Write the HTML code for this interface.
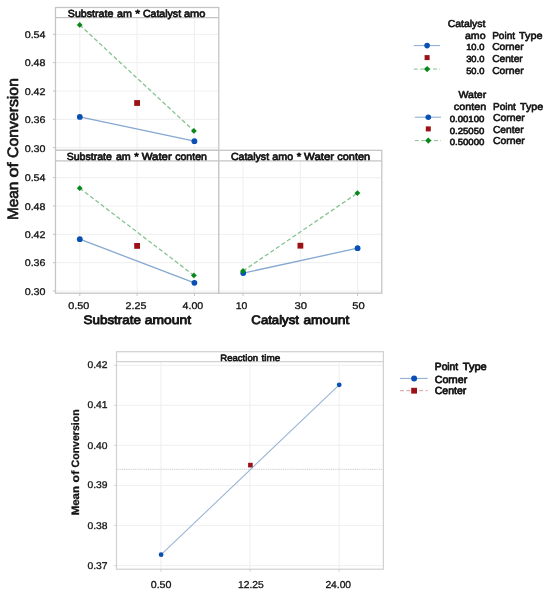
<!DOCTYPE html>
<html><head><meta charset="utf-8"><title>Interaction plot</title>
<style>
html,body{margin:0;padding:0;background:#fff;}
svg{display:block;font-family:"Liberation Sans",sans-serif;text-rendering:geometricPrecision;}
</style></head><body>
<svg width="550" height="594" viewBox="0 0 550 594">
<rect width="550" height="594" fill="#fff"/>
<rect x="55.5" y="7.5" width="163.3" height="142.8" fill="#fff"/>
<line x1="79.8" y1="17.6" x2="79.8" y2="150.3" stroke="#f1f1f1" stroke-width="1.2"/>
<line x1="137.1" y1="17.6" x2="137.1" y2="150.3" stroke="#f1f1f1" stroke-width="1.2"/>
<line x1="194.4" y1="17.6" x2="194.4" y2="150.3" stroke="#f1f1f1" stroke-width="1.2"/>
<line x1="55.5" y1="34.3" x2="218.8" y2="34.3" stroke="#f1f1f1" stroke-width="1.2"/>
<line x1="55.5" y1="62.6" x2="218.8" y2="62.6" stroke="#f1f1f1" stroke-width="1.2"/>
<line x1="55.5" y1="91" x2="218.8" y2="91" stroke="#f1f1f1" stroke-width="1.2"/>
<line x1="55.5" y1="119.3" x2="218.8" y2="119.3" stroke="#f1f1f1" stroke-width="1.2"/>
<line x1="55.5" y1="147.6" x2="218.8" y2="147.6" stroke="#f1f1f1" stroke-width="1.2"/>
<rect x="55.5" y="7.5" width="163.3" height="142.8" fill="none" stroke="#c4c4c4" stroke-width="1.25"/>
<line x1="55.5" y1="17.6" x2="218.8" y2="17.6" stroke="#c4c4c4" stroke-width="1.25"/>
<rect x="55.5" y="150.3" width="163.3" height="142.9" fill="#fff"/>
<line x1="79.8" y1="160.9" x2="79.8" y2="293.2" stroke="#f1f1f1" stroke-width="1.2"/>
<line x1="137.1" y1="160.9" x2="137.1" y2="293.2" stroke="#f1f1f1" stroke-width="1.2"/>
<line x1="194.4" y1="160.9" x2="194.4" y2="293.2" stroke="#f1f1f1" stroke-width="1.2"/>
<line x1="55.5" y1="177.6" x2="218.8" y2="177.6" stroke="#f1f1f1" stroke-width="1.2"/>
<line x1="55.5" y1="206" x2="218.8" y2="206" stroke="#f1f1f1" stroke-width="1.2"/>
<line x1="55.5" y1="234.3" x2="218.8" y2="234.3" stroke="#f1f1f1" stroke-width="1.2"/>
<line x1="55.5" y1="262.7" x2="218.8" y2="262.7" stroke="#f1f1f1" stroke-width="1.2"/>
<line x1="55.5" y1="291" x2="218.8" y2="291" stroke="#f1f1f1" stroke-width="1.2"/>
<rect x="55.5" y="150.3" width="163.3" height="142.9" fill="none" stroke="#c4c4c4" stroke-width="1.25"/>
<line x1="55.5" y1="160.9" x2="218.8" y2="160.9" stroke="#c4c4c4" stroke-width="1.25"/>
<rect x="218.8" y="150.3" width="163" height="142.9" fill="#fff"/>
<line x1="243" y1="160.9" x2="243" y2="293.2" stroke="#f1f1f1" stroke-width="1.2"/>
<line x1="300.3" y1="160.9" x2="300.3" y2="293.2" stroke="#f1f1f1" stroke-width="1.2"/>
<line x1="357.6" y1="160.9" x2="357.6" y2="293.2" stroke="#f1f1f1" stroke-width="1.2"/>
<line x1="218.8" y1="177.6" x2="381.8" y2="177.6" stroke="#f1f1f1" stroke-width="1.2"/>
<line x1="218.8" y1="206" x2="381.8" y2="206" stroke="#f1f1f1" stroke-width="1.2"/>
<line x1="218.8" y1="234.3" x2="381.8" y2="234.3" stroke="#f1f1f1" stroke-width="1.2"/>
<line x1="218.8" y1="262.7" x2="381.8" y2="262.7" stroke="#f1f1f1" stroke-width="1.2"/>
<line x1="218.8" y1="291" x2="381.8" y2="291" stroke="#f1f1f1" stroke-width="1.2"/>
<rect x="218.8" y="150.3" width="163" height="142.9" fill="none" stroke="#c4c4c4" stroke-width="1.25"/>
<line x1="218.8" y1="160.9" x2="381.8" y2="160.9" stroke="#c4c4c4" stroke-width="1.25"/>
<text x="67.8" y="16.8" font-size="10.3" fill="#141414" textLength="45.5" lengthAdjust="spacingAndGlyphs" stroke="#141414" stroke-width="0.70" stroke-linejoin="round">Substrate</text>
<text x="117" y="16.8" font-size="10.3" fill="#141414" textLength="14.9" lengthAdjust="spacingAndGlyphs" stroke="#141414" stroke-width="0.70" stroke-linejoin="round">am</text>
<text x="135.3" y="16.8" font-size="10.3" fill="#141414" textLength="4.8" lengthAdjust="spacingAndGlyphs" stroke="#141414" stroke-width="0.70" stroke-linejoin="round">*</text>
<text x="142.9" y="16.8" font-size="10.3" fill="#141414" textLength="38.2" lengthAdjust="spacingAndGlyphs" stroke="#141414" stroke-width="0.70" stroke-linejoin="round">Catalyst</text>
<text x="183.9" y="16.8" font-size="10.3" fill="#141414" textLength="21.5" lengthAdjust="spacingAndGlyphs" stroke="#141414" stroke-width="0.70" stroke-linejoin="round">amo</text>
<text x="66.7" y="159.8" font-size="10.3" fill="#141414" textLength="45.2" lengthAdjust="spacingAndGlyphs" stroke="#141414" stroke-width="0.70" stroke-linejoin="round">Substrate</text>
<text x="115.9" y="159.8" font-size="10.3" fill="#141414" textLength="14.8" lengthAdjust="spacingAndGlyphs" stroke="#141414" stroke-width="0.70" stroke-linejoin="round">am</text>
<text x="134.3" y="159.8" font-size="10.3" fill="#141414" textLength="4.5" lengthAdjust="spacingAndGlyphs" stroke="#141414" stroke-width="0.70" stroke-linejoin="round">*</text>
<text x="141.7" y="159.8" font-size="10.3" fill="#141414" textLength="30.1" lengthAdjust="spacingAndGlyphs" stroke="#141414" stroke-width="0.70" stroke-linejoin="round">Water</text>
<text x="175.2" y="159.8" font-size="10.3" fill="#141414" textLength="31.8" lengthAdjust="spacingAndGlyphs" stroke="#141414" stroke-width="0.70" stroke-linejoin="round">conten</text>
<text x="230.9" y="159.8" font-size="10.3" fill="#141414" textLength="38.2" lengthAdjust="spacingAndGlyphs" stroke="#141414" stroke-width="0.70" stroke-linejoin="round">Catalyst</text>
<text x="272.3" y="159.8" font-size="10.3" fill="#141414" textLength="20.8" lengthAdjust="spacingAndGlyphs" stroke="#141414" stroke-width="0.70" stroke-linejoin="round">amo</text>
<text x="296.8" y="159.8" font-size="10.3" fill="#141414" textLength="4.5" lengthAdjust="spacingAndGlyphs" stroke="#141414" stroke-width="0.70" stroke-linejoin="round">*</text>
<text x="304.1" y="159.8" font-size="10.3" fill="#141414" textLength="30" lengthAdjust="spacingAndGlyphs" stroke="#141414" stroke-width="0.70" stroke-linejoin="round">Water</text>
<text x="337.3" y="159.8" font-size="10.3" fill="#141414" textLength="32.8" lengthAdjust="spacingAndGlyphs" stroke="#141414" stroke-width="0.70" stroke-linejoin="round">conten</text>
<line x1="52.8" y1="34.3" x2="55.5" y2="34.3" stroke="#c4c4c4" stroke-width="1"/>
<text x="24.7" y="37.7" font-size="9.7" fill="#141414" textLength="20.8" lengthAdjust="spacingAndGlyphs" stroke="#141414" stroke-width="0.3">0.54</text>
<line x1="52.8" y1="62.6" x2="55.5" y2="62.6" stroke="#c4c4c4" stroke-width="1"/>
<text x="24.7" y="66.2" font-size="9.7" fill="#141414" textLength="20.8" lengthAdjust="spacingAndGlyphs" stroke="#141414" stroke-width="0.3">0.48</text>
<line x1="52.8" y1="91" x2="55.5" y2="91" stroke="#c4c4c4" stroke-width="1"/>
<text x="24.7" y="94.7" font-size="9.7" fill="#141414" textLength="20.8" lengthAdjust="spacingAndGlyphs" stroke="#141414" stroke-width="0.3">0.42</text>
<line x1="52.8" y1="119.3" x2="55.5" y2="119.3" stroke="#c4c4c4" stroke-width="1"/>
<text x="24.7" y="123.2" font-size="9.7" fill="#141414" textLength="20.8" lengthAdjust="spacingAndGlyphs" stroke="#141414" stroke-width="0.3">0.36</text>
<line x1="52.8" y1="147.6" x2="55.5" y2="147.6" stroke="#c4c4c4" stroke-width="1"/>
<text x="24.7" y="151.7" font-size="9.7" fill="#141414" textLength="20.8" lengthAdjust="spacingAndGlyphs" stroke="#141414" stroke-width="0.3">0.30</text>
<line x1="52.8" y1="177.6" x2="55.5" y2="177.6" stroke="#c4c4c4" stroke-width="1"/>
<text x="24.7" y="181.1" font-size="9.7" fill="#141414" textLength="20.8" lengthAdjust="spacingAndGlyphs" stroke="#141414" stroke-width="0.3">0.54</text>
<line x1="52.8" y1="206" x2="55.5" y2="206" stroke="#c4c4c4" stroke-width="1"/>
<text x="24.7" y="209.5" font-size="9.7" fill="#141414" textLength="20.8" lengthAdjust="spacingAndGlyphs" stroke="#141414" stroke-width="0.3">0.48</text>
<line x1="52.8" y1="234.3" x2="55.5" y2="234.3" stroke="#c4c4c4" stroke-width="1"/>
<text x="24.7" y="237.9" font-size="9.7" fill="#141414" textLength="20.8" lengthAdjust="spacingAndGlyphs" stroke="#141414" stroke-width="0.3">0.42</text>
<line x1="52.8" y1="262.7" x2="55.5" y2="262.7" stroke="#c4c4c4" stroke-width="1"/>
<text x="24.7" y="266.3" font-size="9.7" fill="#141414" textLength="20.8" lengthAdjust="spacingAndGlyphs" stroke="#141414" stroke-width="0.3">0.36</text>
<line x1="52.8" y1="291" x2="55.5" y2="291" stroke="#c4c4c4" stroke-width="1"/>
<text x="24.7" y="294.7" font-size="9.7" fill="#141414" textLength="20.8" lengthAdjust="spacingAndGlyphs" stroke="#141414" stroke-width="0.3">0.30</text>
<line x1="79.8" y1="293.2" x2="79.8" y2="296" stroke="#c4c4c4" stroke-width="1"/>
<text x="68.3" y="309.1" font-size="9.7" fill="#141414" textLength="21.1" lengthAdjust="spacingAndGlyphs" stroke="#141414" stroke-width="0.3">0.50</text>
<line x1="137.1" y1="293.2" x2="137.1" y2="296" stroke="#c4c4c4" stroke-width="1"/>
<text x="125.6" y="309.1" font-size="9.7" fill="#141414" textLength="20.8" lengthAdjust="spacingAndGlyphs" stroke="#141414" stroke-width="0.3">2.25</text>
<line x1="194.4" y1="293.2" x2="194.4" y2="296" stroke="#c4c4c4" stroke-width="1"/>
<text x="182.6" y="309.1" font-size="9.7" fill="#141414" textLength="20.6" lengthAdjust="spacingAndGlyphs" stroke="#141414" stroke-width="0.3">4.00</text>
<line x1="243" y1="293.2" x2="243" y2="296" stroke="#c4c4c4" stroke-width="1"/>
<text x="235.8" y="309.1" font-size="9.7" fill="#141414" textLength="11.6" lengthAdjust="spacingAndGlyphs" stroke="#141414" stroke-width="0.3">10</text>
<line x1="300.3" y1="293.2" x2="300.3" y2="296" stroke="#c4c4c4" stroke-width="1"/>
<text x="294.4" y="309.1" font-size="9.7" fill="#141414" textLength="12.5" lengthAdjust="spacingAndGlyphs" stroke="#141414" stroke-width="0.3">30</text>
<line x1="357.6" y1="293.2" x2="357.6" y2="296" stroke="#c4c4c4" stroke-width="1"/>
<text x="352.2" y="309.1" font-size="9.7" fill="#141414" textLength="12.4" lengthAdjust="spacingAndGlyphs" stroke="#141414" stroke-width="0.3">50</text>
<text x="83.47" y="323.7" font-size="12.3" fill="#141414" textLength="57.55" lengthAdjust="spacingAndGlyphs" stroke="#141414" stroke-width="0.85" stroke-linejoin="round">Substrate</text>
<text x="144.88" y="323.7" font-size="12.3" fill="#141414" textLength="46.15" lengthAdjust="spacingAndGlyphs" stroke="#141414" stroke-width="0.85" stroke-linejoin="round">amount</text>
<text x="251.38" y="323.7" font-size="12.3" fill="#141414" textLength="47.55" lengthAdjust="spacingAndGlyphs" stroke="#141414" stroke-width="0.85" stroke-linejoin="round">Catalyst</text>
<text x="303.48" y="323.7" font-size="12.3" fill="#141414" textLength="45.85" lengthAdjust="spacingAndGlyphs" stroke="#141414" stroke-width="0.85" stroke-linejoin="round">amount</text>
<g transform="translate(17.9,0) rotate(-90)">
<text x="-220" y="0" font-size="15" fill="#141414" textLength="38.4" lengthAdjust="spacingAndGlyphs" stroke="#141414" stroke-width="0.65">Mean</text>
<text x="-177.6" y="0" font-size="15" fill="#141414" textLength="15.1" lengthAdjust="spacingAndGlyphs" stroke="#141414" stroke-width="0.65">of</text>
<text x="-157.9" y="0" font-size="15" fill="#141414" textLength="79.8" lengthAdjust="spacingAndGlyphs" stroke="#141414" stroke-width="0.65">Conversion</text>
</g>
<line x1="79.8" y1="116.9" x2="194.4" y2="141.2" stroke="#85a8d0" stroke-width="1.3"/>
<line x1="79.7" y1="24.9" x2="193.9" y2="130.9" stroke="#86c293" stroke-width="1.3" stroke-dasharray="4.2 2.45"/>
<circle cx="79.8" cy="116.9" r="2.9" fill="#0a50b4"/>
<circle cx="194.4" cy="141.2" r="2.9" fill="#0a50b4"/>
<polygon points="79.7,22 82.6,24.9 79.7,27.8 76.8,24.9" fill="#08881a"/>
<polygon points="193.9,128 196.8,130.9 193.9,133.8 191,130.9" fill="#08881a"/>
<rect x="134.2" y="100.1" width="5.8" height="5.8" fill="#9c1116"/>
<line x1="79.8" y1="239.2" x2="194.4" y2="282.8" stroke="#85a8d0" stroke-width="1.3"/>
<line x1="79.7" y1="188.2" x2="193.9" y2="275.4" stroke="#86c293" stroke-width="1.3" stroke-dasharray="4.2 2.45"/>
<circle cx="79.8" cy="239.2" r="2.9" fill="#0a50b4"/>
<circle cx="194.4" cy="282.8" r="2.9" fill="#0a50b4"/>
<polygon points="79.7,185.3 82.6,188.2 79.7,191.1 76.8,188.2" fill="#08881a"/>
<polygon points="193.9,272.5 196.8,275.4 193.9,278.3 191,275.4" fill="#08881a"/>
<rect x="134.2" y="243" width="5.8" height="5.8" fill="#9c1116"/>
<line x1="243.2" y1="273.1" x2="357.6" y2="248.2" stroke="#85a8d0" stroke-width="1.3"/>
<line x1="243" y1="271" x2="357.4" y2="193.1" stroke="#86c293" stroke-width="1.3" stroke-dasharray="4.2 2.45"/>
<circle cx="243.2" cy="273.1" r="2.9" fill="#0a50b4"/>
<circle cx="357.6" cy="248.2" r="2.9" fill="#0a50b4"/>
<polygon points="243,268.1 245.9,271 243,273.9 240.1,271" fill="#08881a"/>
<polygon points="357.4,190.2 360.3,193.1 357.4,196 354.5,193.1" fill="#08881a"/>
<rect x="297.5" y="242.8" width="5.8" height="5.8" fill="#9c1116"/>
<text x="447.65" y="27.1" font-size="10" fill="#141414" textLength="37.8" lengthAdjust="spacingAndGlyphs" stroke="#141414" stroke-width="0.60" stroke-linejoin="round">Catalyst</text>
<text x="464.95" y="38.8" font-size="10" fill="#141414" textLength="20.6" lengthAdjust="spacingAndGlyphs" stroke="#141414" stroke-width="0.60" stroke-linejoin="round">amo</text>
<text x="492.15" y="38.8" font-size="10" fill="#141414" textLength="22.9" lengthAdjust="spacingAndGlyphs" stroke="#141414" stroke-width="0.60" stroke-linejoin="round">Point</text>
<text x="518.95" y="38.8" font-size="10" fill="#141414" textLength="23.6" lengthAdjust="spacingAndGlyphs" stroke="#141414" stroke-width="0.60" stroke-linejoin="round">Type</text>
<text x="466.15" y="50.1" font-size="8.9" fill="#141414" textLength="18.2" lengthAdjust="spacingAndGlyphs" stroke="#141414" stroke-width="0.60" stroke-linejoin="round">10.0</text>
<text x="492.15" y="49.8" font-size="10" fill="#141414" textLength="31.6" lengthAdjust="spacingAndGlyphs" stroke="#141414" stroke-width="0.60" stroke-linejoin="round">Corner</text>
<text x="466.15" y="62" font-size="8.9" fill="#141414" textLength="18.2" lengthAdjust="spacingAndGlyphs" stroke="#141414" stroke-width="0.60" stroke-linejoin="round">30.0</text>
<text x="492.15" y="61.7" font-size="10" fill="#141414" textLength="30.6" lengthAdjust="spacingAndGlyphs" stroke="#141414" stroke-width="0.60" stroke-linejoin="round">Center</text>
<text x="466.15" y="73.8" font-size="8.9" fill="#141414" textLength="18.2" lengthAdjust="spacingAndGlyphs" stroke="#141414" stroke-width="0.60" stroke-linejoin="round">50.0</text>
<text x="492.15" y="73.5" font-size="10" fill="#141414" textLength="31.6" lengthAdjust="spacingAndGlyphs" stroke="#141414" stroke-width="0.60" stroke-linejoin="round">Corner</text>
<line x1="413.8" y1="45.6" x2="440" y2="45.6" stroke="#85a8d0" stroke-width="1"/>
<circle cx="427.1" cy="45.6" r="2.8" fill="#0a50b4"/>
<rect x="424.6" y="55.1" width="5" height="5" fill="#9c1116"/>
<line x1="413.8" y1="69.1" x2="440" y2="69.1" stroke="#86c293" stroke-width="1" stroke-dasharray="4 2.4"/>
<polygon points="427.1,66 430.2,69.1 427.1,72.2 424,69.1" fill="#08881a"/>
<text x="458.45" y="97.8" font-size="10" fill="#141414" textLength="27.8" lengthAdjust="spacingAndGlyphs" stroke="#141414" stroke-width="0.60" stroke-linejoin="round">Water</text>
<text x="453.85" y="109.9" font-size="10" fill="#141414" textLength="32.4" lengthAdjust="spacingAndGlyphs" stroke="#141414" stroke-width="0.60" stroke-linejoin="round">conten</text>
<text x="492.95" y="109.9" font-size="10" fill="#141414" textLength="22.9" lengthAdjust="spacingAndGlyphs" stroke="#141414" stroke-width="0.60" stroke-linejoin="round">Point</text>
<text x="519.95" y="109.9" font-size="10" fill="#141414" textLength="23.3" lengthAdjust="spacingAndGlyphs" stroke="#141414" stroke-width="0.60" stroke-linejoin="round">Type</text>
<text x="449.75" y="121.8" font-size="8.9" fill="#141414" textLength="34.6" lengthAdjust="spacingAndGlyphs" stroke="#141414" stroke-width="0.60" stroke-linejoin="round">0.00100</text>
<text x="492.95" y="120.7" font-size="10" fill="#141414" textLength="31.9" lengthAdjust="spacingAndGlyphs" stroke="#141414" stroke-width="0.60" stroke-linejoin="round">Corner</text>
<text x="449.75" y="133.6" font-size="8.9" fill="#141414" textLength="34.6" lengthAdjust="spacingAndGlyphs" stroke="#141414" stroke-width="0.60" stroke-linejoin="round">0.25050</text>
<text x="492.95" y="132.5" font-size="10" fill="#141414" textLength="30.8" lengthAdjust="spacingAndGlyphs" stroke="#141414" stroke-width="0.60" stroke-linejoin="round">Center</text>
<text x="449.75" y="145.3" font-size="8.9" fill="#141414" textLength="34.6" lengthAdjust="spacingAndGlyphs" stroke="#141414" stroke-width="0.60" stroke-linejoin="round">0.50000</text>
<text x="492.95" y="144.2" font-size="10" fill="#141414" textLength="31.9" lengthAdjust="spacingAndGlyphs" stroke="#141414" stroke-width="0.60" stroke-linejoin="round">Corner</text>
<line x1="414.8" y1="117.2" x2="441" y2="117.2" stroke="#85a8d0" stroke-width="1"/>
<circle cx="428.3" cy="117.2" r="2.8" fill="#0a50b4"/>
<rect x="425.8" y="126.4" width="5" height="5" fill="#9c1116"/>
<line x1="414.8" y1="140.6" x2="441" y2="140.6" stroke="#86c293" stroke-width="1" stroke-dasharray="4 2.4"/>
<polygon points="428.3,137.5 431.4,140.6 428.3,143.7 425.2,140.6" fill="#08881a"/>
<rect x="116.5" y="351.7" width="266.9" height="217.5" fill="#fff"/>
<line x1="160.9" y1="361.7" x2="160.9" y2="569.2" stroke="#f1f1f1" stroke-width="1.2"/>
<line x1="250" y1="361.7" x2="250" y2="569.2" stroke="#f1f1f1" stroke-width="1.2"/>
<line x1="339.2" y1="361.7" x2="339.2" y2="569.2" stroke="#f1f1f1" stroke-width="1.2"/>
<line x1="116.5" y1="365.3" x2="383.4" y2="365.3" stroke="#f1f1f1" stroke-width="1.2"/>
<line x1="116.5" y1="405.4" x2="383.4" y2="405.4" stroke="#f1f1f1" stroke-width="1.2"/>
<line x1="116.5" y1="445.4" x2="383.4" y2="445.4" stroke="#f1f1f1" stroke-width="1.2"/>
<line x1="116.5" y1="485.5" x2="383.4" y2="485.5" stroke="#f1f1f1" stroke-width="1.2"/>
<line x1="116.5" y1="525.5" x2="383.4" y2="525.5" stroke="#f1f1f1" stroke-width="1.2"/>
<line x1="116.5" y1="565.6" x2="383.4" y2="565.6" stroke="#f1f1f1" stroke-width="1.2"/>
<rect x="116.5" y="351.7" width="266.9" height="217.5" fill="none" stroke="#d2d2d2" stroke-width="1.25"/>
<line x1="116.5" y1="361.7" x2="383.4" y2="361.7" stroke="#d2d2d2" stroke-width="1.25"/>
<text x="220.25" y="360.8" font-size="9.2" fill="#141414" textLength="37.8" lengthAdjust="spacingAndGlyphs" stroke="#141414" stroke-width="0.60" stroke-linejoin="round">Reaction</text>
<text x="261.55" y="360.8" font-size="9.2" fill="#141414" textLength="18.8" lengthAdjust="spacingAndGlyphs" stroke="#141414" stroke-width="0.60" stroke-linejoin="round">time</text>
<line x1="116.5" y1="469.3" x2="383.4" y2="469.3" stroke="#c8c8c8" stroke-width="1" stroke-dasharray="1 0.85"/>
<line x1="114.2" y1="365.3" x2="116.5" y2="365.3" stroke="#d2d2d2" stroke-width="1"/>
<text x="87.5" y="367.65" font-size="9.8" fill="#141414" textLength="20.1" lengthAdjust="spacingAndGlyphs" stroke="#141414" stroke-width="0.3">0.42</text>
<line x1="114.2" y1="405.4" x2="116.5" y2="405.4" stroke="#d2d2d2" stroke-width="1"/>
<text x="87.5" y="408.3" font-size="9.8" fill="#141414" textLength="20.1" lengthAdjust="spacingAndGlyphs" stroke="#141414" stroke-width="0.3">0.41</text>
<line x1="114.2" y1="445.4" x2="116.5" y2="445.4" stroke="#d2d2d2" stroke-width="1"/>
<text x="87.5" y="449.2" font-size="9.8" fill="#141414" textLength="20.1" lengthAdjust="spacingAndGlyphs" stroke="#141414" stroke-width="0.3">0.40</text>
<line x1="114.2" y1="485.5" x2="116.5" y2="485.5" stroke="#d2d2d2" stroke-width="1"/>
<text x="87.5" y="487.65" font-size="9.8" fill="#141414" textLength="20.1" lengthAdjust="spacingAndGlyphs" stroke="#141414" stroke-width="0.3">0.39</text>
<line x1="114.2" y1="525.5" x2="116.5" y2="525.5" stroke="#d2d2d2" stroke-width="1"/>
<text x="87.5" y="528.8" font-size="9.8" fill="#141414" textLength="20.1" lengthAdjust="spacingAndGlyphs" stroke="#141414" stroke-width="0.3">0.38</text>
<line x1="114.2" y1="565.6" x2="116.5" y2="565.6" stroke="#d2d2d2" stroke-width="1"/>
<text x="87.5" y="569.2" font-size="9.8" fill="#141414" textLength="20.1" lengthAdjust="spacingAndGlyphs" stroke="#141414" stroke-width="0.3">0.37</text>
<line x1="160.9" y1="569.2" x2="160.9" y2="571.7" stroke="#d2d2d2" stroke-width="1"/>
<text x="150.7" y="588.1" font-size="10" fill="#141414" textLength="20.8" lengthAdjust="spacingAndGlyphs" stroke="#141414" stroke-width="0.3">0.50</text>
<line x1="250" y1="569.2" x2="250" y2="571.7" stroke="#d2d2d2" stroke-width="1"/>
<text x="238" y="588.1" font-size="10" fill="#141414" textLength="25.8" lengthAdjust="spacingAndGlyphs" stroke="#141414" stroke-width="0.3">12.25</text>
<line x1="339.2" y1="569.2" x2="339.2" y2="571.7" stroke="#d2d2d2" stroke-width="1"/>
<text x="325.4" y="588.1" font-size="10" fill="#141414" textLength="25.7" lengthAdjust="spacingAndGlyphs" stroke="#141414" stroke-width="0.3">24.00</text>
<g transform="translate(78.7,0) rotate(-90)">
<text x="-515.35" y="0" font-size="10.7" font-weight="bold" fill="#141414" textLength="29.3" lengthAdjust="spacingAndGlyphs" stroke="#141414" stroke-width="0.3">Mean</text>
<text x="-482.45" y="0" font-size="10.7" font-weight="bold" fill="#141414" textLength="11.7" lengthAdjust="spacingAndGlyphs" stroke="#141414" stroke-width="0.3">of</text>
<text x="-467.45" y="0" font-size="10.7" font-weight="bold" fill="#141414" textLength="58.1" lengthAdjust="spacingAndGlyphs" stroke="#141414" stroke-width="0.3">Conversion</text>
</g>
<line x1="161.1" y1="554.7" x2="339.2" y2="384.8" stroke="#97b3d3" stroke-width="1.05"/>
<circle cx="161.1" cy="554.7" r="2.4" fill="#0a50b4"/>
<circle cx="339.2" cy="384.8" r="2.4" fill="#0a50b4"/>
<rect x="248.1" y="462.8" width="4.6" height="4.6" fill="#9c1116"/>
<text x="434.82" y="370.1" font-size="10.4" fill="#141414" textLength="23.35" lengthAdjust="spacingAndGlyphs" stroke="#141414" stroke-width="0.75" stroke-linejoin="round">Point</text>
<text x="462.82" y="370.1" font-size="10.4" fill="#141414" textLength="23.95" lengthAdjust="spacingAndGlyphs" stroke="#141414" stroke-width="0.75" stroke-linejoin="round">Type</text>
<text x="434.82" y="382.7" font-size="10.4" fill="#141414" textLength="32.35" lengthAdjust="spacingAndGlyphs" stroke="#141414" stroke-width="0.75" stroke-linejoin="round">Corner</text>
<text x="434.82" y="394.3" font-size="10.4" fill="#141414" textLength="31.35" lengthAdjust="spacingAndGlyphs" stroke="#141414" stroke-width="0.75" stroke-linejoin="round">Center</text>
<line x1="400" y1="378.4" x2="427.6" y2="378.4" stroke="#85a8d0" stroke-width="1"/>
<circle cx="414.1" cy="378.4" r="3" fill="#0a50b4"/>
<line x1="400" y1="390.7" x2="427.6" y2="390.7" stroke="#dc9a9a" stroke-width="1" stroke-dasharray="4 2.4"/>
<rect x="411.2" y="387.8" width="5.8" height="5.8" fill="#9c1116"/>
</svg>
</body></html>
